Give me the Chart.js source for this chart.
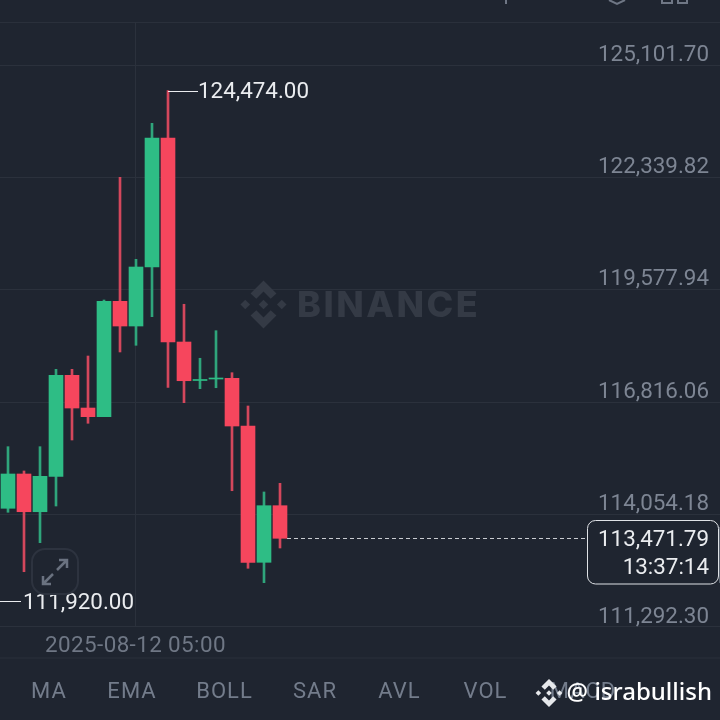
<!DOCTYPE html>
<html>
<head>
<meta charset="utf-8">
<style>
  html, body { margin: 0; padding: 0; background: #1f2530; overflow: hidden; }
  canvas { display: block; }
</style>
<script src="https://cdn.jsdelivr.net/npm/chart.js@4"></script>
</head>
<body>
<canvas id="candleChart" width="720" height="720"></canvas>
<script>
// daily candles
var categories = ['2025-08-04 05:00', '2025-08-05 05:00', '2025-08-06 05:00', '2025-08-07 05:00', '2025-08-08 05:00', '2025-08-09 05:00',
    '2025-08-10 05:00', '2025-08-11 05:00', '2025-08-12 05:00', '2025-08-13 05:00', '2025-08-14 05:00', '2025-08-15 05:00',
    '2025-08-16 05:00', '2025-08-17 05:00', '2025-08-18 05:00', '2025-08-19 05:00', '2025-08-20 05:00', '2025-08-21 05:00'];
var opens  = [114209, 115052, 114125, 114995, 117477, 116673, 116460, 119295, 118688, 120138, 123308, 118295, 117349, 117386, 117403, 116231, 112882, 114273];
var highs  = [115723, 115126, 115723, 117624, 117624, 117951, 119327, 122342, 120327, 123669, 124474, 119222, 117895, 118573, 117541, 116723, 114610, 114823];
var lows   = [114111, 112651, 113364, 114265, 115887, 116298, 116460, 118050, 118214, 118917, 117182, 116804, 117148, 117172, 114641, 112735, 112381, 113233];
var closes = [115052, 114125, 114995, 117477, 116673, 116460, 119295, 118688, 120138, 123308, 118295, 117344, 117374, 117411, 116231, 112882, 114273, 113471.79];
var tickValues = [125101.70, 122339.82, 119577.94, 116816.06, 114054.18, 111292.30];
var highLabel = 124474.00;
var lowLabel = 111920.00;
var lastPrice = 113471.79;
var countdown = '13:37:14';
var crosshairIndex = 8;
var tabs = ['MA', 'EMA', 'BOLL', 'SAR', 'AVL', 'VOL', 'MACD'];
var tabX = [49, 132, 224.5, 315, 399.5, 485.5, 583];

var UP = '#2ebd85';
var DOWN = '#f6465d';
var UP_WICK = '#2fa57b';
var DOWN_WICK = '#d4475c';
var FONT = 'Roboto, "Noto Sans", sans-serif';

// empty slots on the right so a candle stays 16px wide
var labels = categories.concat(new Array(27).fill(''));

function money(v) {
    return v.toLocaleString('en-US', { minimumFractionDigits: 2, maximumFractionDigits: 2 });
}

function candleColors(up, down) {
    return opens.map(function(o, i) {
        return closes[i] >= o ? up : down;
    });
}

function poly(ctx, cx, cy, r, pts) {
    ctx.beginPath();
    pts.forEach(function(p, i) {
        if (i == 0) ctx.moveTo(cx + p[0] * r, cy + p[1] * r);
        else ctx.lineTo(cx + p[0] * r, cy + p[1] * r);
    });
    ctx.closePath();
    ctx.fill();
}

function binanceLogo(ctx, cx, cy, r, color) {
    var s = 0.2;
    ctx.fillStyle = color;
    [[0, 0], [-0.76, 0], [0.76, 0]].forEach(function(c) {
        poly(ctx, cx, cy, r, [[c[0], c[1] - s], [c[0] + s, c[1]], [c[0], c[1] + s], [c[0] - s, c[1]]]);
    });
    poly(ctx, cx, cy, r, [[0, -1], [0.54, -0.46], [0.3, -0.24], [0, -0.54], [-0.3, -0.24], [-0.54, -0.46]]);
    poly(ctx, cx, cy, r, [[0, 1], [0.54, 0.46], [0.3, 0.24], [0, 0.54], [-0.3, 0.24], [-0.54, 0.46]]);
}

function hLine(ctx, x1, x2, y, color) {
    ctx.strokeStyle = color;
    ctx.lineWidth = 1;
    ctx.beginPath();
    ctx.moveTo(x1, y);
    ctx.lineTo(x2, y);
    ctx.stroke();
}

function arrow(ctx, x1, y1, x2, y2, dx, dy) {
    ctx.beginPath();
    ctx.moveTo(x1, y1);
    ctx.lineTo(x2, y2);
    ctx.moveTo(x2 + dx, y2);
    ctx.lineTo(x2, y2);
    ctx.lineTo(x2, y2 + dy);
    ctx.stroke();
}

// crosshair and watermark go under the candles
var underlay = {
    id: 'underlay',
    beforeDatasetsDraw: function(chart) {
        var ctx = chart.ctx;
        var cx = Math.round(chart.scales.x.getPixelForValue(crosshairIndex)) - 0.5;
        ctx.save();
        hLine(ctx, 0, 720, 22.5, '#2a303b');
        hLine(ctx, 0, 720, 658, '#2a303b');
        ctx.strokeStyle = '#2b313c';
        ctx.lineWidth = 1;
        ctx.beginPath();
        ctx.moveTo(cx, 22);
        ctx.lineTo(cx, 627);
        ctx.stroke();

        binanceLogo(ctx, 263.5, 304.5, 24, '#343a45');
        ctx.fillStyle = '#343a45';
        ctx.font = '800 36px Inter, sans-serif';
        ctx.letterSpacing = '2.5px';
        ctx.textAlign = 'left';
        ctx.textBaseline = 'middle';
        ctx.fillText('BINANCE', 297, 306);
        ctx.letterSpacing = '0px';
        ctx.restore();
    }
};

var overlay = {
    id: 'overlay',
    afterDatasetsDraw: function(chart) {
        var ctx = chart.ctx;
        var xs = chart.scales.x;
        var ys = chart.scales.y;
        var highX = xs.getPixelForValue(highs.indexOf(highLabel));
        var highY = ys.getPixelForValue(highLabel);
        var lowY = ys.getPixelForValue(lowLabel);
        var lastY = Math.round(ys.getPixelForValue(lastPrice)) + 0.5;
        var lastX = xs.getPixelForValue(opens.length - 1) + 7;

        ctx.save();
        ctx.textBaseline = 'middle';
        ctx.font = '22.4px ' + FONT;

        // highest / lowest
        hLine(ctx, highX, 198, Math.round(highY) + 0.5, '#eaecef');
        hLine(ctx, 0, 21, Math.round(lowY) + 0.5, '#eaecef');
        ctx.fillStyle = '#eaecef';
        ctx.textAlign = 'left';
        ctx.fillText(money(highLabel), 198, highY + 2);
        ctx.fillText(money(lowLabel), 23, lowY + 2);

        // last price
        ctx.setLineDash([4, 3]);
        hLine(ctx, lastX, 588, lastY, '#c9ccd1');
        ctx.setLineDash([]);
        ctx.fillStyle = '#1f2530';
        ctx.strokeStyle = '#dfe2e6';
        ctx.lineWidth = 1;
        ctx.beginPath();
        ctx.roundRect(587.5, 520.5, 131, 63.5, 8);
        ctx.fill();
        ctx.stroke();
        ctx.fillStyle = '#5c6470';
        ctx.fillRect(719, 527, 1, 56);
        ctx.fillStyle = '#eaecef';
        ctx.textAlign = 'right';
        ctx.fillText(money(lastPrice), 709, lastY + 2);
        ctx.fillText(countdown, 709, 568.5);

        // date of the crosshair
        ctx.fillStyle = '#6f7785';
        ctx.textAlign = 'center';
        ctx.letterSpacing = '0.4px';
        ctx.fillText(categories[crosshairIndex], xs.getPixelForValue(crosshairIndex) - 0.5, 646.5);

        // expand button
        ctx.strokeStyle = '#2d333f';
        ctx.lineWidth = 2;
        ctx.beginPath();
        ctx.roundRect(32, 549, 46, 45, 13);
        ctx.stroke();
        ctx.strokeStyle = '#6a7280';
        ctx.lineWidth = 2.5;
        arrow(ctx, 53, 574, 43, 584, 8, -8);
        arrow(ctx, 57, 570, 67, 560, -8, 8);

        // tabs
        ctx.font = '22px ' + FONT;
        ctx.letterSpacing = '1px';
        ctx.textAlign = 'center';
        tabs.forEach(function(t, i) {
            ctx.fillStyle = '#737c8b';
            ctx.fillText(t, tabX[i], 692.5);
        });
        ctx.letterSpacing = '0px';

        // cut off icons along the top edge
        ctx.strokeStyle = '#6f7785';
        ctx.lineWidth = 2;
        ctx.beginPath();
        ctx.moveTo(506, 0);
        ctx.lineTo(506, 4);
        ctx.moveTo(609, 0);
        ctx.lineTo(617, 4);
        ctx.lineTo(625, 0);
        ctx.moveTo(662, 0);
        ctx.lineTo(662, 3);
        ctx.lineTo(672, 3);
        ctx.lineTo(672, 0);
        ctx.moveTo(678, 0);
        ctx.lineTo(678, 3);
        ctx.lineTo(687, 3);
        ctx.lineTo(687, 0);
        ctx.stroke();

        // handle
        binanceLogo(ctx, 549, 693, 14, '#e6e8eb');
        ctx.fillStyle = '#ffffff';
        ctx.font = '500 24px "Noto Sans", sans-serif';
        ctx.textAlign = 'right';
        ctx.fillText('@ israbullish', 712, 693);
        ctx.restore();
    }
};

document.addEventListener('DOMContentLoaded', function() {
    var ctx = document.getElementById('candleChart').getContext('2d');
    new Chart(ctx, {
        type: 'bar',
        data: {
            labels: labels,
            datasets: [
                {
                    label: 'wick',
                    data: lows.map(function(l, i) { return [l, highs[i]]; }),
                    backgroundColor: candleColors(UP_WICK, DOWN_WICK),
                    barThickness: 2,
                    grouped: false,
                    order: 2
                },
                {
                    label: 'body',
                    data: opens.map(function(o, i) { return [o, closes[i]]; }),
                    backgroundColor: candleColors(UP, DOWN),
                    barThickness: 14,
                    grouped: false,
                    order: 1
                }
            ]
        },
        options: {
            responsive: false,
            animation: false,
            layout: { padding: 0 },
            plugins: {
                legend: { display: false },
                tooltip: { enabled: false }
            },
            scales: {
                x: {
                    display: false,
                    offset: true
                },
                y: {
                    position: 'right',
                    min: 109007,
                    max: 126699,
                    afterBuildTicks: function(axis) {
                        axis.ticks = tickValues.map(function(v) { return { value: v }; });
                    },
                    // labels sit inside the plot, so the axis takes no room
                    afterFit: function(axis) {
                        axis.width = 0;
                        axis.paddingTop = 0;
                        axis.paddingBottom = 0;
                        axis.paddingLeft = 0;
                        axis.paddingRight = 0;
                    },
                    grid: { color: '#2b313c', drawTicks: false },
                    border: { display: false },
                    ticks: {
                        mirror: true,
                        padding: -11,
                        labelOffset: -10,
                        color: '#7d8593',
                        font: { family: FONT, size: 22.4 },
                        callback: function(v) { return money(v); }
                    }
                }
            }
        },
        plugins: [underlay, overlay]
    });
});
</script>
</body>
</html>
